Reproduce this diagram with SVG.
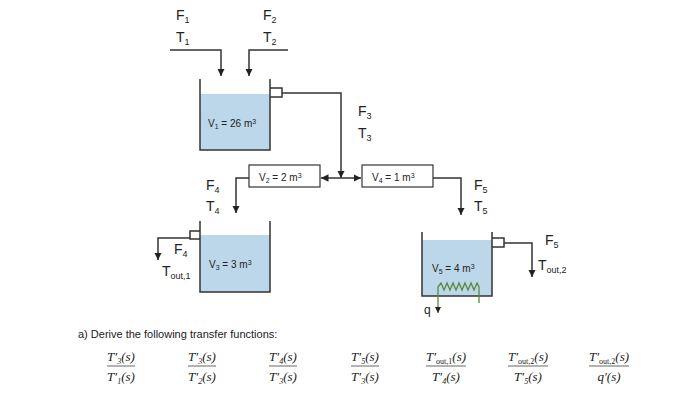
<svg xmlns="http://www.w3.org/2000/svg" width="700" height="405" viewBox="0 0 700 405">
<style>
.l{fill:none;stroke:#333;stroke-width:1.5}
.w{fill:#bcd6ea}
.t{font-family:"Liberation Sans",Arial,sans-serif;font-size:14px;fill:#222}
.s{font-family:"Liberation Sans",Arial,sans-serif;font-size:10px;fill:#222}
.b{fill:#fff;stroke:#333;stroke-width:1.2}
.f{font-family:"Liberation Serif","Times New Roman",serif;font-style:italic;font-size:13px;fill:#222;text-anchor:middle}
.u{font-style:normal}
.q{font-family:"Liberation Sans",Arial,sans-serif;font-size:12px;fill:#222}
</style>
<defs><marker id="a" viewBox="0 0 10 10" refX="10" refY="5" markerWidth="5" markerHeight="5" orient="auto"><path d="M0,0L10,5L0,10z" fill="#222"/></marker></defs>
<rect width="700" height="405" fill="#fff"/>
<g id="labels">
<text class="t" x="176" y="20">F<tspan font-size="9" dy="3">1</tspan></text>
<text class="t" x="176" y="42">T<tspan font-size="9" dy="3">1</tspan></text>
<text class="t" x="263" y="20">F<tspan font-size="9" dy="3">2</tspan></text>
<text class="t" x="263" y="42">T<tspan font-size="9" dy="3">2</tspan></text>
<text class="t" x="358" y="116">F<tspan font-size="9" dy="3">3</tspan></text>
<text class="t" x="358" y="138">T<tspan font-size="9" dy="3">3</tspan></text>
<text class="t" x="206" y="190">F<tspan font-size="9" dy="3">4</tspan></text>
<text class="t" x="206" y="211">T<tspan font-size="9" dy="3">4</tspan></text>
<text class="t" x="174" y="254">F<tspan font-size="9" dy="3">4</tspan></text>
<text class="t" x="162" y="276">T<tspan font-size="9" dy="3">out,1</tspan></text>
<text class="t" x="474" y="190">F<tspan font-size="9" dy="3">5</tspan></text>
<text class="t" x="474" y="211">T<tspan font-size="9" dy="3">5</tspan></text>
<text class="t" x="545" y="245">F<tspan font-size="9" dy="3">5</tspan></text>
<text class="t" x="538" y="270">T<tspan font-size="9" dy="3">out,2</tspan></text>
</g>
<g id="tank1">
<rect class="w" x="200" y="94" width="70" height="56"/>
<path class="l" d="M200,79V150H270V79"/>
<path class="l" d="M270,88H282V97H270"/>
<text class="s" x="208" y="127">V<tspan font-size="7" dy="2">1</tspan><tspan dy="-2"> = 26 m</tspan><tspan font-size="7" dy="-3">3</tspan></text>
</g>
<g id="v2"><rect class="b" x="249" y="165" width="71" height="22"/>
<text class="s" x="259" y="181">V<tspan font-size="7" dy="2">2</tspan><tspan dy="-2"> = 2 m</tspan><tspan font-size="7" dy="-3">3</tspan></text></g>
<g id="v4"><rect class="b" x="362" y="165" width="71" height="22"/>
<text class="s" x="372" y="181">V<tspan font-size="7" dy="2">4</tspan><tspan dy="-2"> = 1 m</tspan><tspan font-size="7" dy="-3">3</tspan></text></g>
<g id="tank3">
<rect class="w" x="200" y="235" width="70" height="57"/>
<path class="l" d="M200,221V292H270V221"/>
<path class="l" d="M200,231H190V239H200"/>
<text class="s" x="209" y="268">V<tspan font-size="7" dy="2">3</tspan><tspan dy="-2"> = 3 m</tspan><tspan font-size="7" dy="-3">3</tspan></text>
</g>
<g id="tank5">
<rect class="w" x="422" y="240" width="70" height="56"/>
<path class="l" d="M422,232V296H492V232"/>
<path class="l" d="M492,238H504V247H492"/>
<text class="s" x="432" y="272">V<tspan font-size="7" dy="2">5</tspan><tspan dy="-2"> = 4 m</tspan><tspan font-size="7" dy="-3">3</tspan></text>
<path d="M438,303V287L441,283L444,290L447,283L450,290L453,283L456,290L459,283L462,290L465,283L468,290L471,283L474,290L477,283L479,287V303" fill="none" stroke="#5a8a3a" stroke-width="1.3"/>
<path d="M438,303V313" stroke="#5a8a3a" stroke-width="1.3" marker-end="url(#a)"/>
<text class="q" x="424" y="314">q</text>
</g>
<g id="connectors">
<path class="l" d="M170,50H221V76" marker-end="url(#a)"/>
<path class="l" d="M288,50H249V76" marker-end="url(#a)"/>
<path class="l" d="M282,93H341V178" marker-end="url(#a)"/>
<path class="l" d="M341,178H321" marker-end="url(#a)"/>
<path class="l" d="M341,178H361" marker-end="url(#a)"/>
<path class="l" d="M249,178H236V213" marker-end="url(#a)"/>
<path class="l" d="M190,238H158V260" marker-end="url(#a)"/>
<path class="l" d="M433,178H461V215" marker-end="url(#a)"/>
<path class="l" d="M504,243H532V277" marker-end="url(#a)"/>
</g>
<g id="question">
<text x="78" y="338" font-family="Liberation Sans,Arial,sans-serif" font-size="11" fill="#222">a) Derive the following transfer functions:</text>
<g stroke="#555" stroke-width="0.9">
<line x1="107" y1="366" x2="135" y2="366"/><line x1="188" y1="366" x2="216" y2="366"/><line x1="269" y1="366" x2="297" y2="366"/><line x1="351" y1="366" x2="379" y2="366"/><line x1="426" y1="366" x2="466" y2="366"/><line x1="508" y1="366" x2="548" y2="366"/><line x1="589" y1="366" x2="629" y2="366"/>
</g>
<text class="f" x="121" y="361">T′<tspan font-size="8" dy="3">3</tspan><tspan dy="-3">(s)</tspan></text>
<text class="f" x="121" y="381">T′<tspan font-size="8" dy="3">1</tspan><tspan dy="-3">(s)</tspan></text>
<text class="f" x="202" y="361">T′<tspan font-size="8" dy="3">3</tspan><tspan dy="-3">(s)</tspan></text>
<text class="f" x="202" y="381">T′<tspan font-size="8" dy="3">2</tspan><tspan dy="-3">(s)</tspan></text>
<text class="f" x="283" y="361">T′<tspan font-size="8" dy="3">4</tspan><tspan dy="-3">(s)</tspan></text>
<text class="f" x="283" y="381">T′<tspan font-size="8" dy="3">3</tspan><tspan dy="-3">(s)</tspan></text>
<text class="f" x="365" y="361">T′<tspan font-size="8" dy="3">5</tspan><tspan dy="-3">(s)</tspan></text>
<text class="f" x="365" y="381">T′<tspan font-size="8" dy="3">3</tspan><tspan dy="-3">(s)</tspan></text>
<text class="f" x="446" y="361">T′<tspan class="u" font-size="8" dy="3">out,1</tspan><tspan dy="-3">(s)</tspan></text>
<text class="f" x="446" y="381">T′<tspan font-size="8" dy="3">4</tspan><tspan dy="-3">(s)</tspan></text>
<text class="f" x="528" y="361">T′<tspan class="u" font-size="8" dy="3">out,2</tspan><tspan dy="-3">(s)</tspan></text>
<text class="f" x="528" y="381">T′<tspan font-size="8" dy="3">5</tspan><tspan dy="-3">(s)</tspan></text>
<text class="f" x="609" y="361">T′<tspan class="u" font-size="8" dy="3">out,2</tspan><tspan dy="-3">(s)</tspan></text>
<text class="f" x="609" y="381">q′(s)</text>
</g>
</svg>
